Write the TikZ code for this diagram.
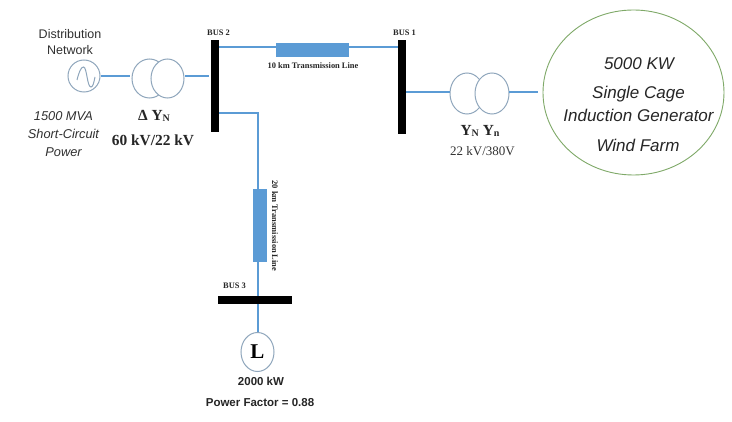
\documentclass[tikz,border=0pt]{standalone}
\usepackage{fontspec}
\setmainfont{Liberation Serif}
\newfontfamily\arialf{Liberation Sans}
\definecolor{wire}{HTML}{5B9BD5}
\definecolor{ring}{HTML}{8FA6BC}
\definecolor{farm}{HTML}{7FA968}
\definecolor{inktext}{HTML}{303030}
\tikzset{
  wireline/.style={draw=wire,line width=1.2pt},
  busbar/.style={fill=black,draw=none,inner sep=0pt,minimum width=#1},
  ringe/.style={ellipse,draw=ring,fill=white,line width=1pt,inner sep=0pt,minimum width=#1},
  linebox/.style={rectangle,fill=wire,draw=none,inner sep=0pt},
  sanslabel/.style={font=\arialf\fontsize{12.5}{15}\selectfont,text=inktext,align=center,inner sep=0pt},
  sansital/.style={font=\arialf\itshape\fontsize{12.8}{18}\selectfont,text=inktext,align=center,inner sep=0pt},
  farmlabel/.style={font=\arialf\itshape\fontsize{17}{20}\selectfont,text=black!85,align=center,inner sep=0pt},
  serifbold/.style={font=\bfseries\fontsize{15.4}{18}\selectfont,text=black!85,inner sep=0pt},
  buslabel/.style={font=\bfseries\fontsize{8.4}{10}\selectfont,text=black!85,inner sep=0pt},
  loadlabel/.style={font=\arialf\bfseries\fontsize{11.5}{14}\selectfont,text=black!85,inner sep=0pt},
}
\usetikzlibrary{shapes.geometric}
\newcommand{\subn}[1]{{\fontsize{10}{12}\selectfont\raisebox{-0.15em}{#1}}}
\begin{document}
\begin{tikzpicture}[x=1pt,y=-1pt]
\useasboundingbox[fill=white] (0,0) rectangle (732,422);
% buses
\node[busbar=8pt,minimum height=92pt] (bus2) at (215,86) {};
\node[busbar=8pt,minimum height=94pt] (bus1) at (402,87) {};
\node[busbar=74pt,minimum height=8pt] (bus3) at (255,300) {};
% source and transformers
\node[ringe=32pt,minimum height=32pt] (src) at (84,76) {};
\draw[ring,line width=1pt] (77,80) .. controls (79,72) and (81,67) .. (83.5,67) .. controls (87,67) and (87,87) .. (91,87) .. controls (93,87) and (94,82) .. (95,77);
\node[ringe=35pt,minimum height=39pt] (t1a) at (149.5,78.5) {};
\node[ringe=33pt,minimum height=39pt] (t1b) at (167.5,78.5) {};
\node[ringe=34pt,minimum height=41pt] (t2a) at (467,93.5) {};
\node[ringe=34pt,minimum height=41pt] (t2b) at (492,93.5) {};
% wind farm
\node[ellipse,draw=farm,line width=0.9pt,inner sep=0pt,minimum width=181pt,minimum height=165pt] (farm) at (633.5,92.5) {};
% transmission lines
\node[linebox,minimum width=73pt,minimum height=14pt] (tl1) at (312.5,50) {};
\node[linebox,minimum width=14pt,minimum height=73pt] (tl2) at (260,225.5) {};
% load
\node[ringe=33pt,minimum height=39pt,font=\bfseries\fontsize{21}{24}\selectfont] (load) at (257.5,352) {L};
% connectors
\coordinate (b2a) at (219,47);
\coordinate (b1a) at (398,47);
\coordinate (b1b) at (406,92);
\coordinate (b2b) at (219,113);
\coordinate (bend) at (258,113);
\coordinate (s1) at (100,76);
\coordinate (s2) at (130,76);
\coordinate (s3) at (185,76);
\coordinate (s4) at (209,76);
\coordinate (f1) at (509,92);
\coordinate (f2) at (538,92);
\coordinate (f3) at (450,92);
\coordinate (v1) at (258,189);
\coordinate (v2) at (258,262);
\coordinate (v3) at (258,296);
\coordinate (v4) at (258,304);
\coordinate (v5) at (258,332);
\draw[wireline] (src.east |- s1) -- (s2);
\draw[wireline] (s3) -- (s4);
\draw[wireline] (b2a) -- (tl1.west |- b2a);
\draw[wireline] (tl1.east |- b1a) -- (b1a);
\draw[wireline] (b1b) -- (f3);
\draw[wireline] (f1) -- (f2);
\draw[wireline] (b2b) -- (bend) -- (v1);
\draw[wireline] (v2) -- (v3);
\draw[wireline] (v4) -- (v5);
% labels
\node[sanslabel] (lnet) at (70,42) {Distribution\\[1pt]Network};
\node[sansital] (lsc) at (63.5,134) {1500 MVA\\Short-Circuit\\Power};
\node[serifbold] (ldy) at (154,116) {Δ Y\subn{N}};
\node[serifbold] (lv1) at (153,140.5) {60 kV/22 kV};
\node[buslabel] (lb2) at (218.5,33) {BUS 2};
\node[buslabel] (lb1) at (404.5,33) {BUS 1};
\node[buslabel] (lb3) at (234.5,285.5) {BUS 3};
\node[buslabel] (ltl1) at (313,65.5) {10 km Transmission Line};
\node[buslabel,rotate=-90] (ltl2) at (275,226) {20 km Transmission Line};
\node[serifbold] (lyy) at (480,131) {Y\subn{N} Y\subn{n}};
\node[font=\fontsize{13}{15}\selectfont,text=black!80,inner sep=0pt] (lv2) at (482.5,151) {22 kV/380V};
\node[farmlabel] at (639,64) {5000 KW};
\node[farmlabel] at (638.5,94) {Single Cage};
\node[farmlabel] at (638.5,115) {Induction Generator};
\node[farmlabel] at (638,145) {Wind Farm};
\node[loadlabel] (lp) at (261,381) {2000 kW};
\node[loadlabel] (lpf) at (260,403) {Power Factor = 0.88};
\end{tikzpicture}
\end{document}
